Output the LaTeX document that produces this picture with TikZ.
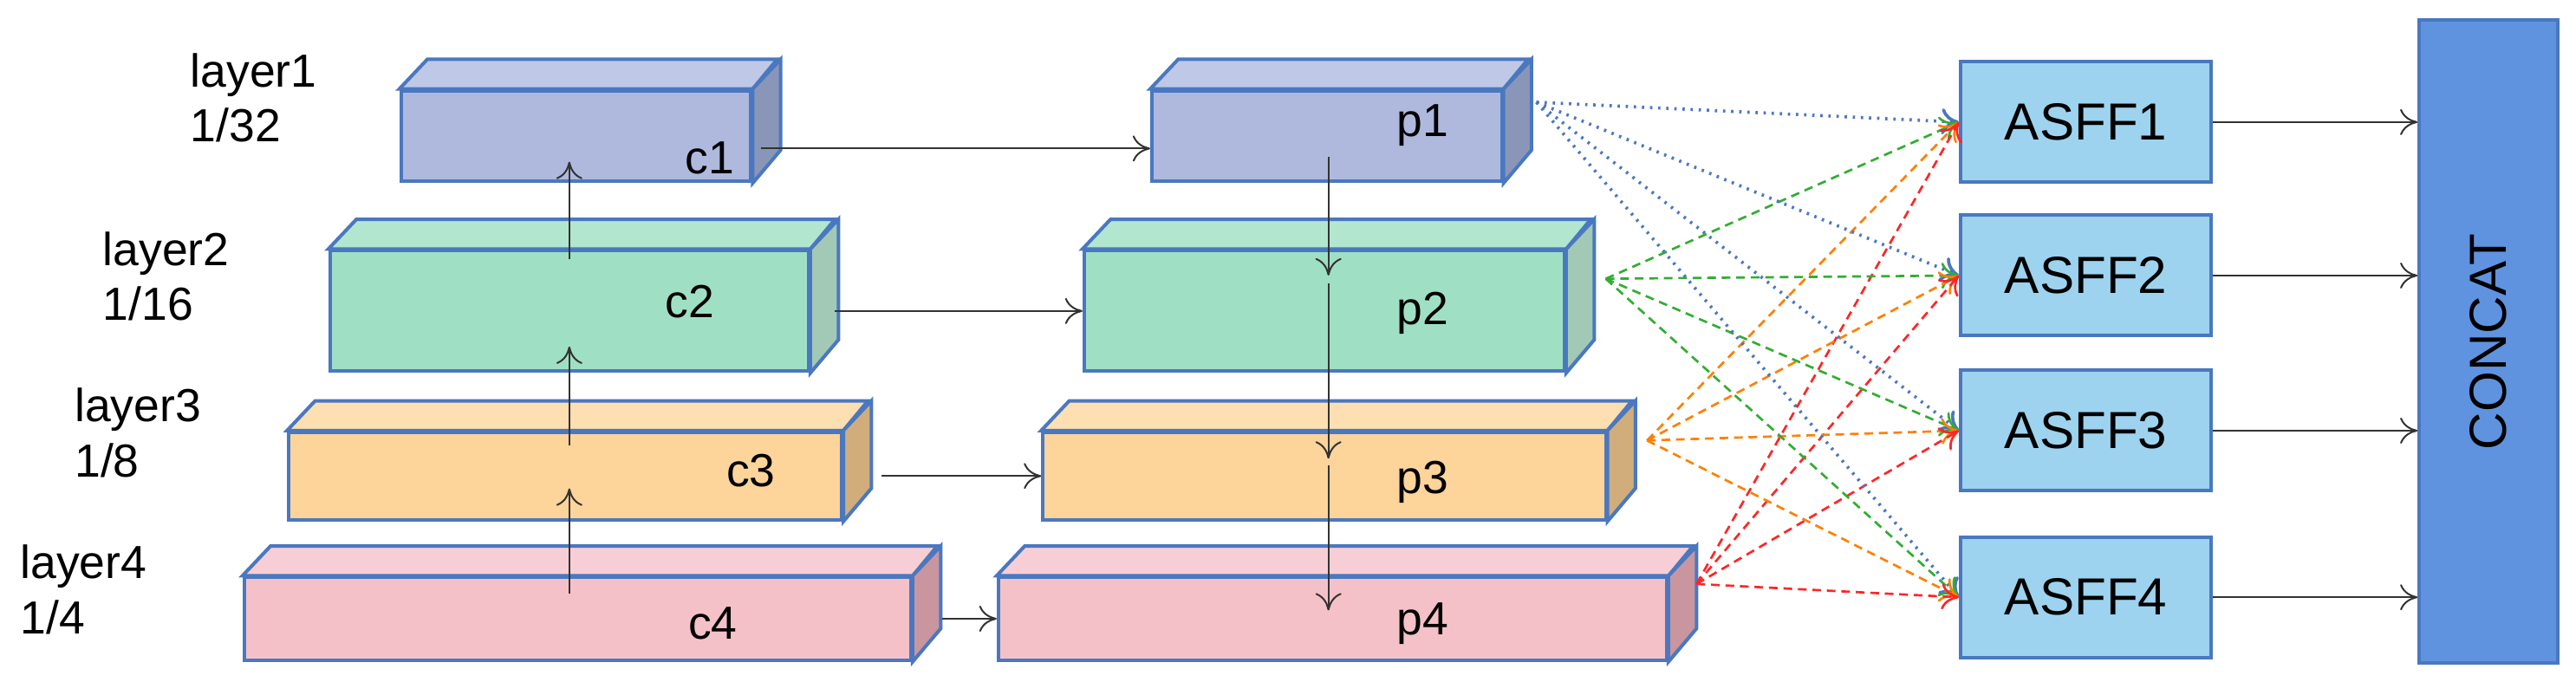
\documentclass[tikz,border=0pt]{standalone}
\usepackage{fontspec}
\setmainfont{Liberation Sans}
\usetikzlibrary{arrows,arrows.meta}

\definecolor{edge}{HTML}{4A78C0}
\definecolor{asffc}{HTML}{9DD3EE}
\definecolor{concatc}{HTML}{5F93E0}
\definecolor{blauV}{HTML}{AEB9DD}\definecolor{blauO}{HTML}{BFC8E6}\definecolor{blauS}{HTML}{8A96B8}
\definecolor{gruenV}{HTML}{9FE0C4}\definecolor{gruenO}{HTML}{B3E6CF}\definecolor{gruenS}{HTML}{A2C8B6}
\definecolor{gelbV}{HTML}{FDD49A}\definecolor{gelbO}{HTML}{FDDFB2}\definecolor{gelbS}{HTML}{D0AD7B}
\definecolor{rosaV}{HTML}{F5C1C9}\definecolor{rosaO}{HTML}{F7CED5}\definecolor{rosaS}{HTML}{C9959F}

% Quader: Name, x1, y1, x2, y2, Vorderseite, Oberseite, Seite
\newcommand{\quader}[8]{%
  \node[draw=edge, line width=1.2pt, fill=#6, inner sep=0pt,
        minimum width={(#4-#2)*0.02cm}, minimum height={(#5-#3)*0.02cm}]
        (#1) at ({(#2+#4)/2},{(#3+#5)/2}) {};
  \draw[edge, line width=1.2pt, fill=#7] (#1.north west) -- ++(17,-18) -- ++({#4-#2},0) -- (#1.north east) -- cycle;
  \draw[edge, line width=1.2pt, fill=#8] (#1.north east) -- ++(17,-18) -- ++(0,{#5-#3}) -- (#1.south east) -- cycle;
}

\begin{document}
\begin{tikzpicture}[x=0.02cm, y=-0.02cm, font=\fontsize{16}{19}\selectfont,
    >={To[length=6pt,width=9pt]},
    pfeil/.style={->, black!80, line width=0.6pt},
    quer/.style={->, line width=0.8pt},
    asff/.style={draw=edge, line width=1.2pt, fill=asffc, minimum width=3.04cm, minimum height=1.46cm, font=\fontsize{18}{21}\selectfont},
    lbl/.style={align=left, anchor=north west, inner sep=0pt}]
  \useasboundingbox (0,0) rectangle (1561,413);

  % Quader links
  \quader{c1}{243}{55}{455}{110}{blauV}{blauO}{blauS}
  \quader{c2}{200}{152}{490}{225}{gruenV}{gruenO}{gruenS}
  \quader{c3}{175}{262}{510}{315}{gelbV}{gelbO}{gelbS}
  \quader{c4}{148}{350}{552}{400}{rosaV}{rosaO}{rosaS}
  % Quader mitte
  \quader{p1}{698}{55}{910}{110}{blauV}{blauO}{blauS}
  \quader{p2}{657}{152}{948}{225}{gruenV}{gruenO}{gruenS}
  \quader{p3}{632}{262}{973}{315}{gelbV}{gelbO}{gelbS}
  \quader{p4}{605}{350}{1010}{400}{rosaV}{rosaO}{rosaS}

  % Beschriftungen
  \node[lbl] (l1) at (115,32) {layer1\\1/32};
  \node[lbl] (l2) at (62,140) {layer2\\1/16};
  \node[lbl] (l3) at (45,235) {layer3\\1/8};
  \node[lbl] (l4) at (12,330) {layer4\\1/4};
  \node (t1) at (430,96) {c1};
  \node (t2) at (418,183) {c2};
  \node (t3) at (455,285) {c3};
  \node (t4) at (432,378) {c4};
  \node (s1) at (862,76) {p1};
  \node (s2) at (862,190) {p2};
  \node (s3) at (862,292) {p3};
  \node (s4) at (862,378) {p4};

  % ASFF und CONCAT
  \node[asff] (a1) at (1264,74) {ASFF1};
  \node[asff] (a2) at (1264,167) {ASFF2};
  \node[asff] (a3) at (1264,261) {ASFF3};
  \node[asff] (a4) at (1264,362) {ASFF4};
  \node[draw=edge, line width=1.2pt, fill=concatc, minimum width=7.8cm, minimum height=1.68cm,
        rotate=90, font=\fontsize{18}{21}\selectfont] (cc) at (1508,207) {CONCAT};

  % Pfeile
  \draw[pfeil] ([yshift=-0.15cm]c1.east) ++(5,0) coordinate (e1) -- ([yshift=-0.15cm]p1.west);
  \draw[pfeil] (c2.east) ++(15,0) -- (p2.west);
  \draw[pfeil] (c3.east) ++(23,0) -- (p3.west);
  \draw[pfeil] (c4.east) ++(18,0) -- (p4.west);
  \draw[pfeil] (345,360) -- (345,296);
  \draw[pfeil] (345,270) -- (345,210);
  \draw[pfeil] (345,157) -- (345,98);
  \draw[pfeil] (805,95) -- (805,167);
  \draw[pfeil] (805,172) -- (805,278);
  \draw[pfeil] (805,282) -- (805,370);
  \foreach \i in {1,...,4} {
    \draw[pfeil] (a\i.east) -- (a\i.east -| cc.north);
  }

  % Querverbindungen
  \coordinate (o1) at ([shift={(20,8)}]p1.north east);
  \coordinate (o2) at ([shift={(24,18)}]p2.north east);
  \coordinate (o3) at ([shift={(24,6)}]p3.north east);
  \coordinate (o4) at ([shift={(17,5)}]p4.north east);
  \foreach \i in {1,...,4} {
    \draw[quer, dotted, line width=1.1pt, edge] (o1) -- (a\i.west);
    \draw[quer, densely dashed, green!60!black!80!white] (o2) -- (a\i.west);
    \draw[quer, densely dashed, orange] (o3) -- (a\i.west);
    \draw[quer, densely dashed, red!85!white] (o4) -- (a\i.west);
  }
\end{tikzpicture}
\end{document}
